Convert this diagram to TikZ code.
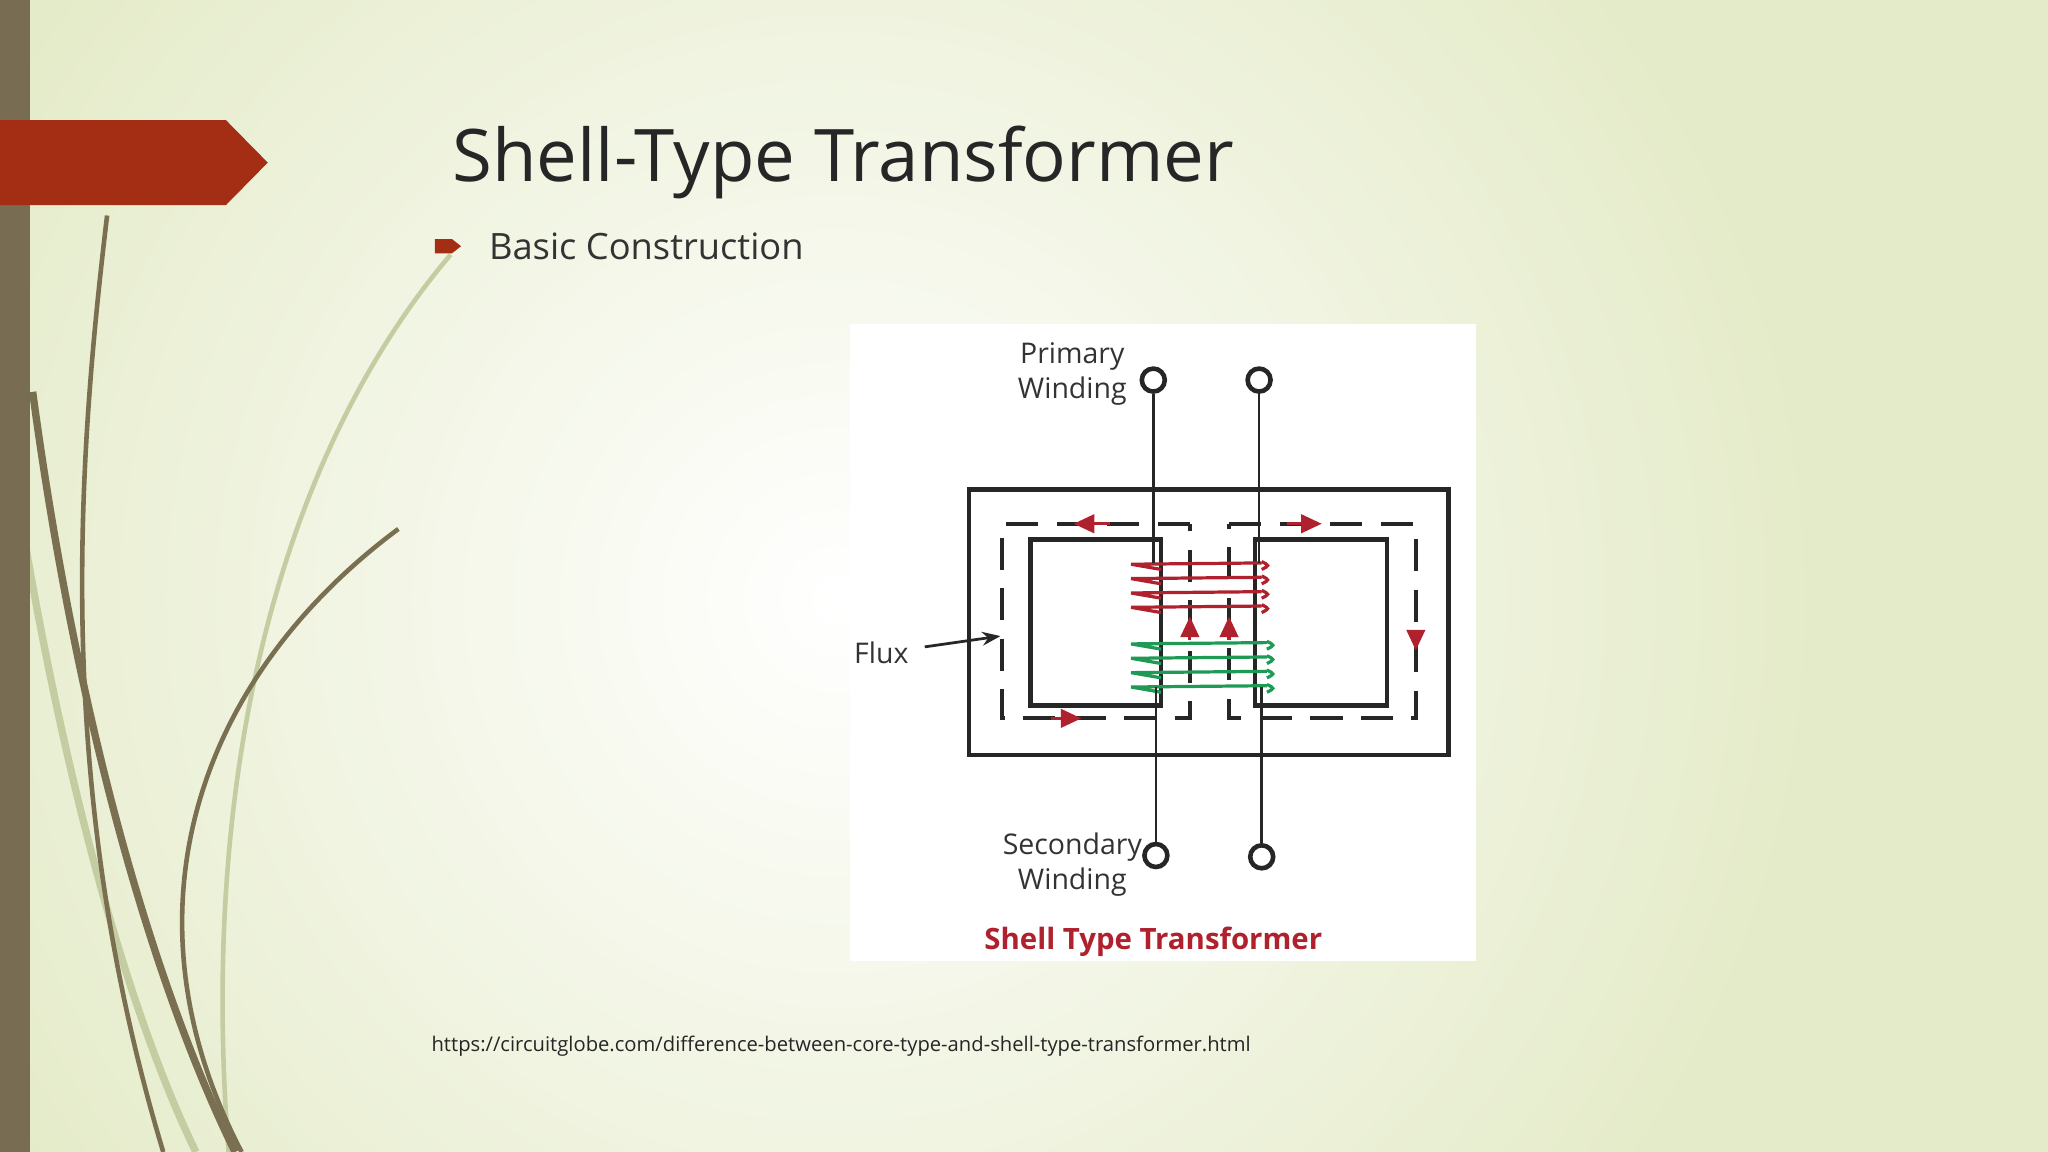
\documentclass[tikz,border=0pt]{standalone}
\usepackage{fontspec}
\setmainfont{Open Sans}
\usetikzlibrary{arrows.meta}
\definecolor{bgcol}{HTML}{E4EBC8}
\definecolor{barcol}{HTML}{786C52}
\definecolor{bannercol}{HTML}{A32E14}
\definecolor{stemcol}{HTML}{7A6F50}
\definecolor{stemlight}{HTML}{C4CCA2}
\definecolor{redcoil}{HTML}{B0212E}
\definecolor{greencoil}{HTML}{1E9A55}
\tikzset{
  core/.style={line width=1pt, black!85},
  fluxpath/.style={line width=0.9pt, dash pattern=on 7pt off 4pt, black!85},
  wire/.style={line width=0.6pt, black!85},
  term/.style={circle, draw=black!85, line width=1pt, fill=white, inner sep=0pt, minimum size=5pt},
  flow/.style={-{Triangle[length=4.5pt,width=4pt]}, redcoil, line width=0.7pt},
  coil/.style={line width=0.7pt},
  lbl/.style={font=\fontsize{6.2}{7.6}\selectfont, text=black!80, align=center}
}
\begin{document}
\begin{tikzpicture}[x=0.01cm,y=-0.01cm]
		% Background and slide decoration:
		\useasboundingbox (0,0) rectangle (1568,882);
		\fill[bgcol] (0,0) rectangle (1568,882);
		\begin{scope}
			\clip (0,0) rectangle (1568,882);
			\shade[inner color=white, outer color=bgcol] (640,460) circle (760);
			\draw[stemlight, line width=1.6pt] (20,420) .. controls (60,650) and (110,800) .. (150,882);
			\draw[stemlight, line width=1pt] (175,882) .. controls (150,560) and (230,330) .. (345,195);
			\draw[stemcol, line width=1pt] (125,882) .. controls (40,600) and (60,350) .. (82,165);
			\draw[stemcol, line width=1pt] (185,882) .. controls (90,700) and (150,520) .. (305,405);
			\draw[stemcol, line width=1.6pt] (25,300) .. controls (60,560) and (120,760) .. (180,882);
		\end{scope}
		\fill[barcol] (0,0) rectangle (23,882);
		\fill[bannercol] (0,92) -- (173,92) -- (205,124.5) -- (173,157) -- (0,157) -- cycle;
		% Titles:
		\node[anchor=west, font=\fontsize{15.8}{18}\selectfont, text=black!85] (title) at (334,124) {Shell-Type Transformer};
		\fill[bannercol] (333,183) -- (346,183) -- (353,188.5) -- (346,194) -- (333,194) -- cycle;
		\node[anchor=west, font=\fontsize{7.9}{9}\selectfont, text=black!80] (sub) at (362,189) {Basic Construction};
		\node[anchor=west, font=\fontsize{4.4}{5}\selectfont, text=black!85] (url) at (318,801) {https://circuitglobe.com/difference-between-core-type-and-shell-type-transformer.html};
		% Figure:
		\fill[white] (651,248) rectangle (1130,736);
		\draw[core] (742,375) rectangle (1109,578);
		\draw[core] (789,413) rectangle (889,540);
		\draw[core] (961,413) rectangle (1062,540);
		\draw[fluxpath] (911,401) -- (767,401) -- (767,550) -- (911,550) -- cycle;
		\draw[fluxpath] (941,401) -- (1084,401) -- (1084,550) -- (941,550) -- cycle;
		% Windings:
		\foreach \yy in {431,442,453,464} {
			\draw[redcoil, coil] (966,\yy) -- (866,\yy+1) -- (889,\yy+5);
			\draw[redcoil, coil] (966,\yy-1) .. controls (972,\yy+2) .. (966,\yy+5);
		}
		\foreach \yy in {492,503,514,525} {
			\draw[greencoil, coil] (970,\yy) -- (866,\yy+1) -- (889,\yy+5);
			\draw[greencoil, coil] (970,\yy-1) .. controls (976,\yy+2) .. (970,\yy+5);
		}
		% Terminals and wires:
		\node[term] (p1) at (883,291) {};
		\node[term] (p2) at (964,291) {};
		\node[term] (s1) at (885,655) {};
		\node[term] (s2) at (966,656) {};
		\coordinate (p1end) at (883,431);
		\coordinate (p2end) at (964,431);
		\coordinate (s1end) at (885,526);
		\coordinate (s2end) at (966,526);
		\draw[wire] (p1) -- (p1end);
		\draw[wire] (p2) -- (p2end);
		\draw[wire] (s1) -- (s1end);
		\draw[wire] (s2) -- (s2end);
		% Flux arrows:
		\draw[flow] (850,401) -- (822,401);
		\draw[flow] (985,401) -- (1012,401);
		\draw[flow] (1084,482) -- (1084,498);
		\draw[flow] (805,550) -- (828,550);
		\draw[flow] (911,490) -- (911,472);
		\draw[flow] (941,490) -- (941,472);
		% Labels:
		\node[lbl] (primary) at (821,286) {Primary\\Winding};
		\node[lbl] (secondary) at (821,662) {Secondary\\Winding};
		\node[lbl, anchor=east] (flux) at (708,500) {Flux};
		\coordinate (fluxtip) at (766,487);
		\draw[-{Stealth[length=4pt]}, line width=0.6pt, black!85] (flux) -- (fluxtip);
		\node[font=\bfseries\fontsize{6.4}{8}\selectfont, text=redcoil] (caption) at (883,721) {Shell Type Transformer};
	\end{tikzpicture}
\end{document}
